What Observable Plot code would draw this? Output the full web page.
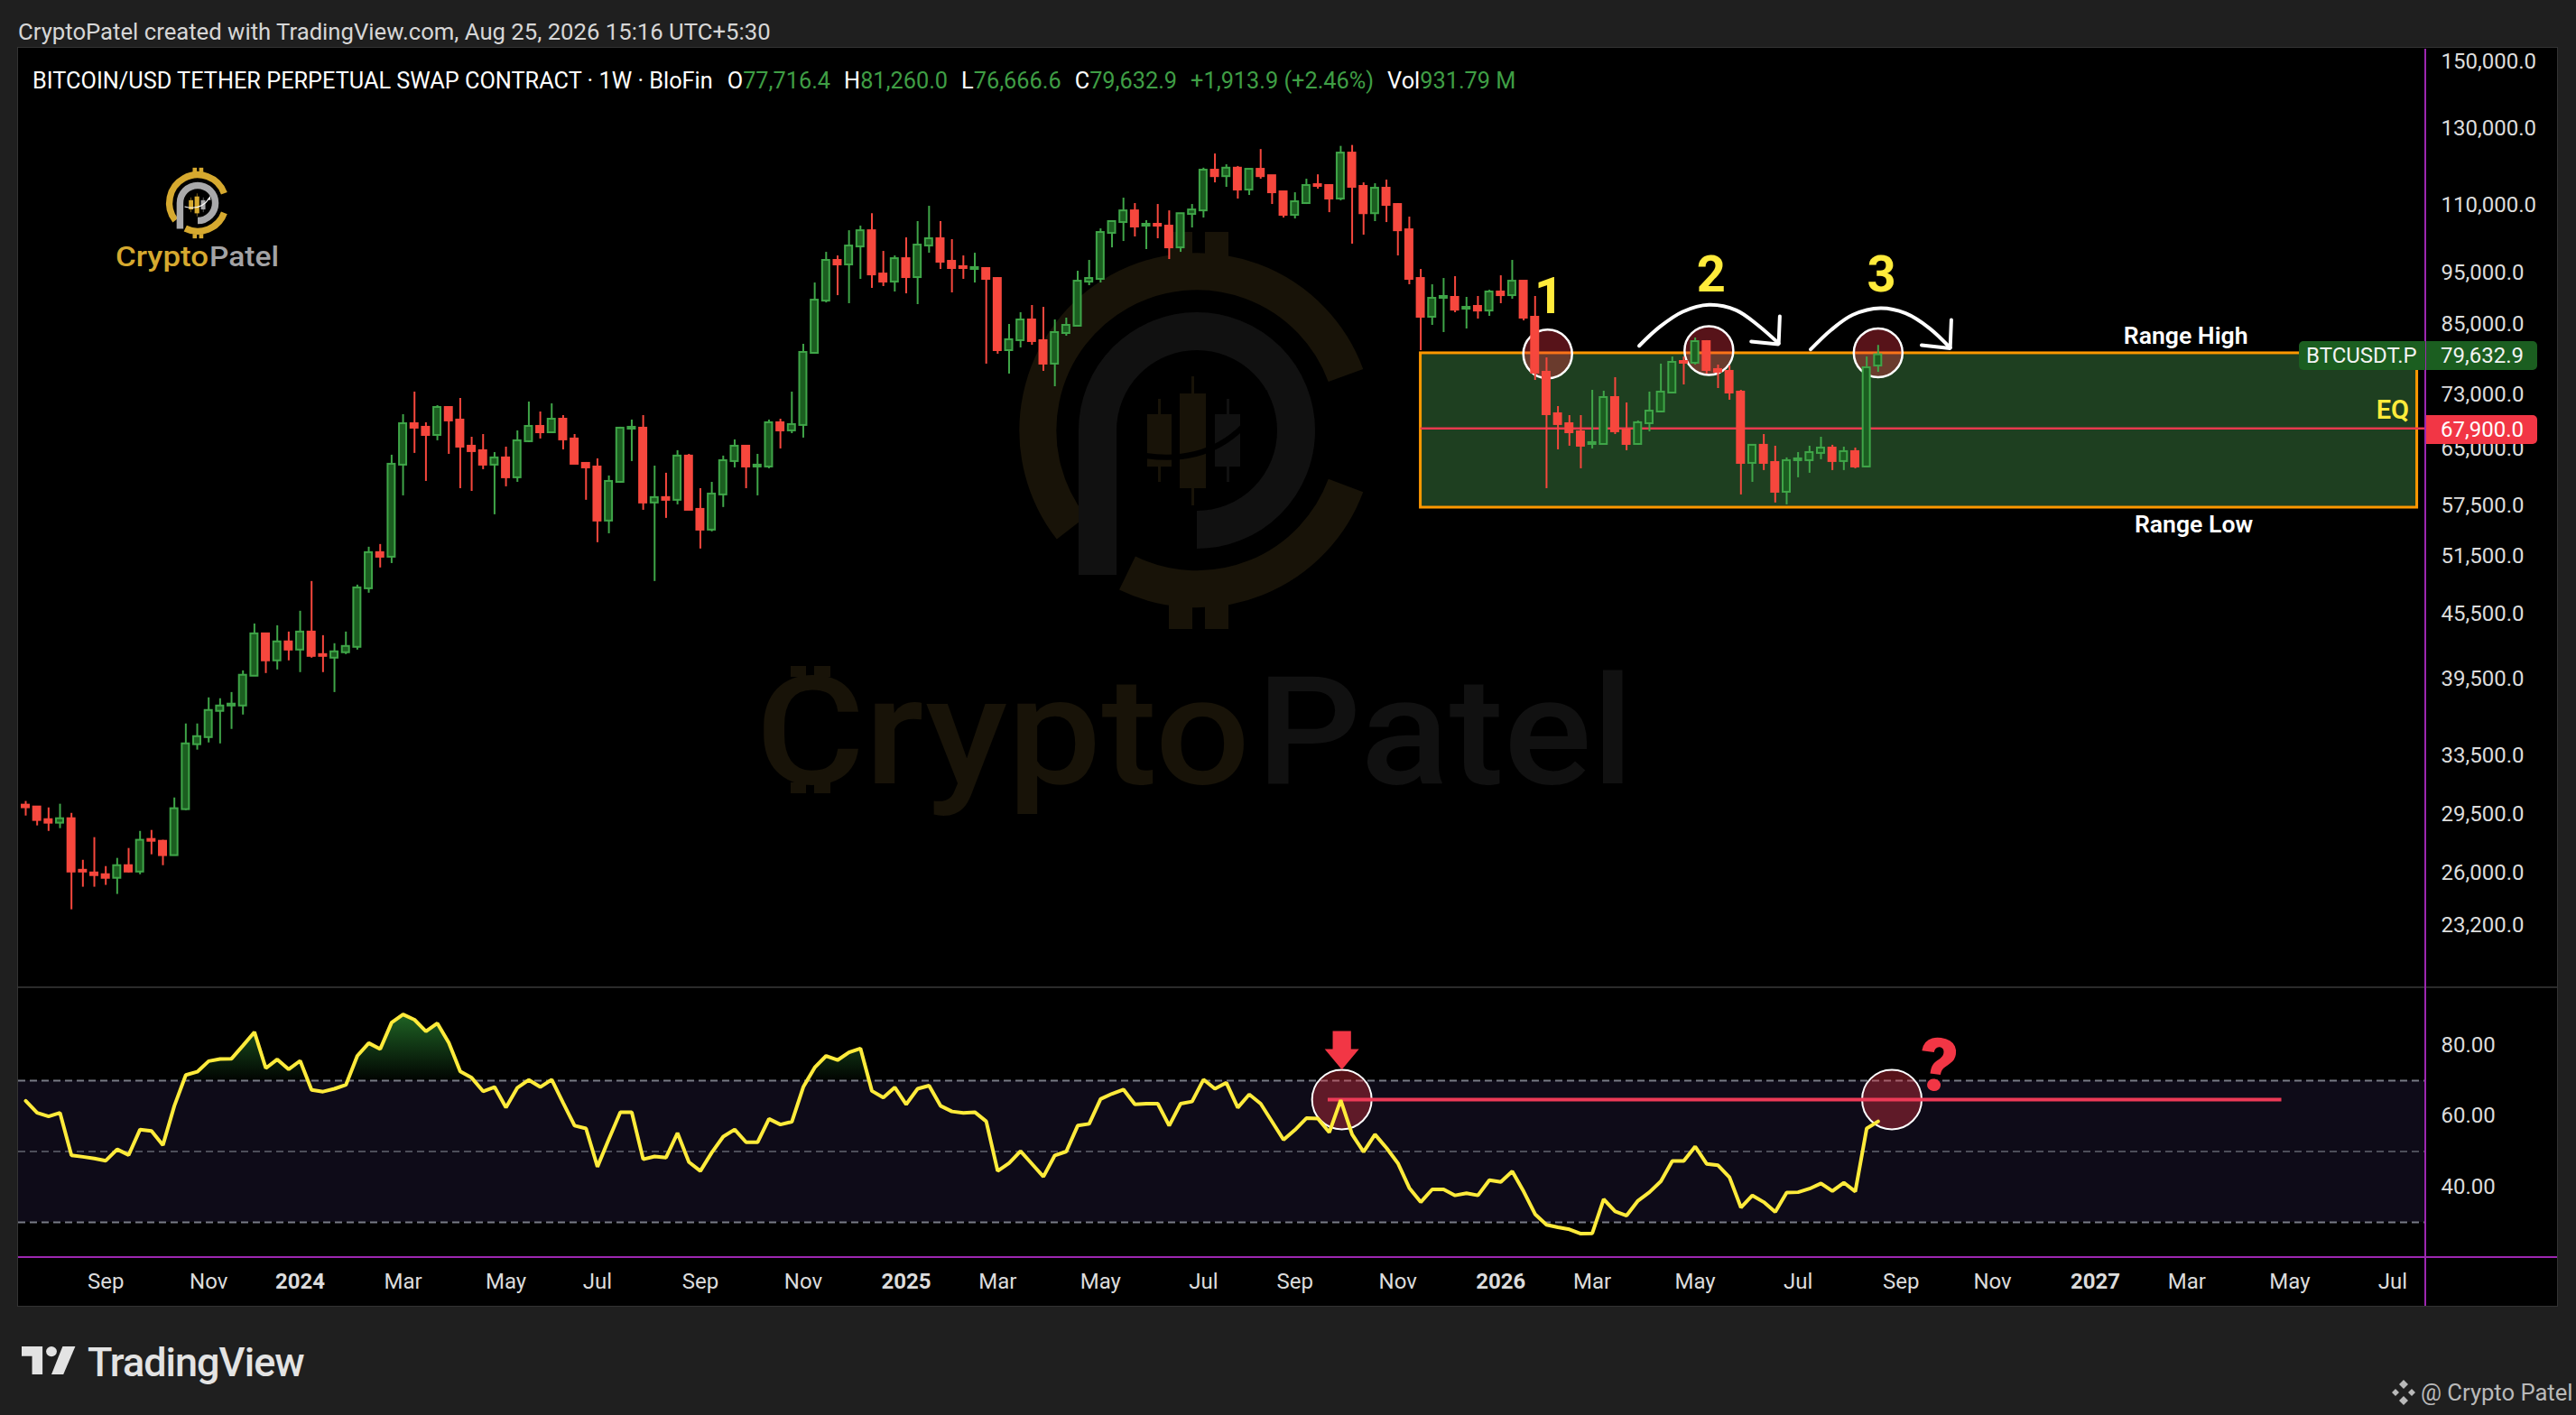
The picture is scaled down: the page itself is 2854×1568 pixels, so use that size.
<!DOCTYPE html>
<html>
<head>
<meta charset="utf-8">
<script src="https://cdn.jsdelivr.net/npm/d3@7"></script>
<script src="https://cdn.jsdelivr.net/npm/@observablehq/plot@0.6"></script>
<style>
html,body{margin:0;padding:0;background:#1f1f1f;}
#page{position:relative;width:2854px;height:1568px;overflow:hidden;background:#1f1f1f;font-family:Roboto,sans-serif;color:#d9d9d9;}
#page>*{position:absolute;}
#panel{left:20px;top:53px;width:2813px;height:1394px;background:#000;box-shadow:0 0 0 1px #333;}
.hline{background:#2b2b2b;}
.badge{font-size:24px;line-height:32px;height:32px;color:#f2f2f2;white-space:pre;}
#legend{left:36px;top:74px;font-size:25.3px;line-height:32px;white-space:pre;color:#fff;}
#legend b{font-weight:400;color:#3f9e45;}
</style>
</head>
<body>
<div id="page">
  <div id="panel"></div>
  <svg id="marks" width="2854" height="1568" style="left:0;top:0"></svg>
  <div id="priceHost" style="left:20px;top:54px"></div>
  <div id="rsiHost" style="left:20px;top:1094px"></div>
  <div class="hline" style="left:20px;top:1093px;width:2813px;height:2px"></div>
  <div style="left:2686px;top:54px;width:2px;height:1393px;background:#9c27b0"></div>
  <div style="left:20px;top:1392px;width:2813px;height:2px;background:#9c27b0"></div>
  <div style="left:20px;top:18px;font-size:25.7px;line-height:34px;white-space:pre;color:#d6d6d6">CryptoPatel created with TradingView.com, Aug 25, 2026 15:16 UTC+5:30</div>
  <div id="legend">BITCOIN/USD TETHER PERPETUAL SWAP CONTRACT · 1W · BloFin<span style="margin-left:16px">O<b>77,716.4</b></span><span style="margin-left:15px">H<b>81,260.0</b></span><span style="margin-left:15px">L<b>76,666.6</b></span><span style="margin-left:15px">C<b>79,632.9</b></span><span style="margin-left:15px"><b>+1,913.9 (+2.46%)</b></span><span style="margin-left:15px">Vol<b>931.79 M</b></span></div>
  <div class="badge" style="left:2547px;top:378px;width:140px;background:#1b5e20;border-radius:5px 0 0 5px;text-indent:8px">BTCUSDT.P</div>
  <div class="badge" style="left:2688px;top:378px;width:123px;background:#1b5e20;border-radius:0 5px 5px 0;text-indent:16px">79,632.9</div>
  <div class="badge" style="left:2688px;top:460px;width:123px;background:#f23645;color:#fff;border-radius:0 5px 5px 0;text-indent:16px">67,900.0</div>
  <div style="left:97px;top:1482px;font-size:45px;line-height:56px;font-weight:500;letter-spacing:-1px;color:#e3e3e3">TradingView</div>
  <div style="left:2682px;top:1526px;font-size:25.6px;line-height:34px;color:#b9b9b9;white-space:pre">@ Crypto Patel</div>
</div>
<script>
// ---------- chart values (weekly candles) ----------
const firstCandle = "2023-07-17";
const opens = [30080,29960,29150,28930,29210,26130,25980,25880,25680,26390,26030,27930,27820,26970,29790,34280,34810,36840,37270,37270,39750,43560,41090,42810,42060,43730,41650,41330,41820,42310,48020,51920,51410,62730,68610,68080,66890,71060,69150,65350,64720,62730,63720,61040,65990,68210,67280,69280,66380,62970,62480,55590,60440,67810,67950,57800,58480,58140,63970,57010,54510,58820,63220,65350,62480,62480,68750,67550,68350,79880,89430,97650,96700,100540,104120,94820,93180,98020,94090,100740,102330,97460,96330,95760,95950,93910,80350,82100,85860,82100,78040,83380,84700,93180,93730,103530,105980,108690,105160,105580,105160,100340,107850,108690,118680,117040,119200,113690,118910,117270,113250,107640,110420,115030,114810,111500,123150,114590,108030,114140,110200,104330,93910,86360,89970,90150,87880,88410,87530,91210,90490,93360,86360,76680,70100,68610,67420,65600,65600,72600,67680,65600,68610,70370,73310,78490,78190,81930,77130,76830,73460,62970,65480,63090,59160,63340,63340,64340,65090,63220,64590,62480,77716.4];
const highs = [30320,29960,29900,30140,29550,26700,28040,26340,26810,27390,28420,28480,27880,30550,35850,35850,37930,37860,38370,40210,44500,43560,44330,43730,45740,48780,43390,42640,43730,48400,52530,52840,64090,69960,73460,68750,71340,71060,72460,66630,67020,64460,65220,67550,71900,70370,71620,69820,67020,63090,63590,61280,68080,69150,69820,62600,61640,64720,64210,59620,60440,63970,66250,65350,64210,69150,69280,73460,81450,93000,99370,98600,104120,105160,108030,99570,98600,102530,106200,109770,106200,102130,98600,99180,96140,94090,85030,87210,88580,88230,85860,86190,95390,97650,104540,106420,111720,110420,106420,110200,108690,108030,110200,119200,122910,120070,119640,118910,124100,117270,113250,113030,116390,117500,115030,124950,125200,115470,115250,116160,110420,107230,95760,92640,93910,94280,90150,90330,91560,94460,97650,93360,90330,79100,71200,69820,69820,73740,73600,75790,71760,69020,73460,78040,79250,79250,82570,82100,77880,77730,73740,65480,67020,65350,63720,64460,65350,66630,65480,65220,65090,79250,81260];
const lows = [29380,28760,28420,28590,23990,25190,25190,25290,24800,25980,25880,27020,26390,26970,29730,33880,34410,34340,35430,36550,39750,39980,40290,41090,40060,41330,40060,38370,41650,42060,47560,50230,50710,58700,64340,60560,66120,64210,59620,59270,62120,56350,59860,60440,65860,66380,67280,64840,62850,58140,53050,54080,60320,63220,56900,48780,55910,57570,56900,52330,54300,57240,62360,59620,58700,62240,64970,67150,66510,79880,89080,90490,88930,93730,91920,92280,91210,90850,88750,99180,95760,91030,93730,93000,78040,79730,76380,80820,81290,76830,74320,82890,84700,92460,93000,100340,101730,102730,99970,102330,97840,99370,104750,107020,115470,114360,111500,112370,116390,110200,107020,106810,110200,113910,108270,111060,101140,103130,106200,105980,98600,92640,80350,84860,83550,87210,84200,86020,86530,88930,89790,85690,75340,59620,64840,65350,62240,64970,65600,67020,64720,65480,67420,70230,73310,74610,77880,76380,74030,72180,58820,60440,62000,57800,57570,61040,61640,63470,62000,62000,62240,62480,76666.6];
const closes = [29910,29100,28930,29210,26030,26030,25830,25680,26390,26030,27880,27820,26970,29850,34340,34880,36910,37270,37420,39830,43560,41090,42810,42060,43730,41490,41490,41900,42390,48110,51920,51410,62850,68610,67950,66890,71060,69020,65220,64590,62730,63720,61040,66120,68210,67280,69280,66250,62850,62360,55590,60560,67950,68080,57800,58480,58140,63970,56900,54510,58930,63340,65350,62480,62730,68750,67550,68480,80040,89610,97650,96700,100740,104120,94640,93180,98020,94090,100940,102330,97270,95950,95950,96140,93730,80350,82260,85860,81940,78040,83550,84860,93360,93910,103730,106200,108690,104960,105580,105160,100340,108030,108900,118680,117040,119200,113690,118910,117040,113030,107640,110850,114810,114590,111500,123150,114360,108030,114140,109980,104120,93730,86360,89970,90330,87700,88230,87530,91210,90490,93360,86190,76530,69960,68480,67280,65350,65860,72600,67420,65600,68750,70500,73460,78340,78190,81930,76980,76680,73310,62970,65480,62970,59160,63340,63590,64460,65090,63220,64590,62480,77430,79632.9];
const rsi = [64.3,60.9,59.9,60.9,48.9,48.5,48.0,47.4,50.6,49.0,56.2,55.8,51.8,62.9,71.6,72.5,75.5,76.1,76.2,79.9,83.7,73.5,76.0,73.2,75.6,67.4,66.9,67.7,68.8,77.0,80.6,78.9,86.4,88.7,87.2,83.9,86.2,80.7,72.6,70.8,67.0,68.2,62.4,68.0,70.2,68.2,70.3,63.7,57.3,56.5,45.7,53.5,61.1,61.1,47.8,48.6,48.3,55.2,47.0,44.5,49.7,54.2,56.2,52.6,52.6,59.2,57.6,58.4,68.2,73.7,77.0,75.8,78.0,79.1,67.1,65.2,68.1,63.3,67.7,68.6,62.9,61.3,60.9,61.1,58.5,44.5,46.7,50.1,46.5,42.9,48.9,50.0,57.3,57.8,64.8,66.3,67.5,63.3,63.5,63.5,57.3,63.5,64.1,70.3,67.7,69.4,62.4,66.1,63.5,58.4,53.3,56.1,59.4,59.3,55.4,64.5,54.8,49.9,54.8,51.0,46.7,39.7,35.7,39.3,39.3,37.6,38.2,37.6,41.9,41.4,44.4,38.7,32.3,29.3,28.6,28.0,26.8,26.9,36.5,33.1,31.9,36.1,38.5,41.6,47.3,47.3,51.4,46.5,46.1,42.7,34.2,37.6,35.7,32.9,38.4,38.5,39.5,41.0,38.8,41.2,38.7,56.5,58.5];

const priceTicks = [150000,130000,110000,95000,85000,73000,65000,57500,51500,45500,39500,33500,29500,26000,23200];
const rsiTicks = [80,60,40];
const rsiLevels = [70,50,30];
const monthTicks = ["2023-09-04","2023-11-06","2024-03-04","2024-05-06","2024-07-01","2024-09-02","2024-11-04","2025-03-03","2025-05-05","2025-07-07","2025-09-01","2025-11-03","2026-03-02","2026-05-04","2026-07-06","2026-09-07","2026-11-02","2027-03-01","2027-05-03","2027-07-05"];
const yearTicks = ["2024-01-01","2025-01-06","2026-01-05","2027-01-04"];
const timeDomain = ["2023-07-12T14:00Z","2027-07-25T05:00Z"];
const priceDomain = [20270,154150];
const rsiDomain = [20.06,96.24];

const rangeHigh = 79890, rangeLow = 57220, rangeEq = 67900;
const rangeStart = "2025-11-17", rangeEnd = "2027-07-20";
const touchCircles = [{i:133.1,p:79770},{i:147.2,p:80360},{i:162,p:79950}];
const touchNumbers = [{i:133.2,p:90150,t:"1"},{i:147.4,p:94640,t:"2"},{i:162.3,p:94640,t:"3"}];
const rangeLabels = [{i:188.9,p:82970,t:"Range High",c:"#fff",s:26.6},{i:189.6,p:55100,t:"Range Low",c:"#fff",s:26.6},{i:207.0,p:70650,t:"EQ",c:"#ffeb3b",s:29}];
const arcs = [
  {k:"a2",i:141.1,p:81180},{k:"a2",i:142.9,p:84580},{k:"a2",i:144.9,p:87380},{k:"a2",i:147.2,p:88700},{k:"a2",i:149.6,p:87670},{k:"a2",i:151.5,p:84860},{k:"a2",i:153.3,p:81610},
  {k:"a3",i:156.1,p:80550},{k:"a3",i:157.9,p:84040},{k:"a3",i:159.8,p:86820},{k:"a3",i:162.2,p:88060},{k:"a3",i:164.4,p:87090},{k:"a3",i:166.5,p:84310},{k:"a3",i:168.3,p:80820}
];
const arrowHeads = [
  {k:"h2",i:150.9,p:81930},{k:"h2",i:153.3,p:81450},{k:"h2",i:153.4,p:86530},
  {k:"h3",i:165.8,p:81290},{k:"h3",i:168.3,p:80740},{k:"h3",i:168.4,p:85860}
];
const rsiResistance = 64.65;
const rsiLineStart = 113.9, rsiLineEnd = 197.3;
const rsiCircles = [{i:115.1,v:64.65},{i:163.2,v:64.65}];
const rsiDownArrow = [{i:114.3,v:84},{i:115.9,v:84},{i:115.9,v:78.9},{i:116.6,v:78.9},{i:115.1,v:73.1},{i:113.6,v:78.9},{i:114.3,v:78.9}];
const rsiQuestion = [{i:167.2,v:73.8,t:"?"}];

// ---------- helpers ----------
const weekMs = 7*864e5;
const firstMs = Date.parse(firstCandle+"T00:00Z");
const weekDate = i => new Date(firstMs + i*weekMs);
const toDate = s => new Date(s.length>10 ? s : s+"T00:00Z");
const xDomain = timeDomain.map(toDate);
for (const a of [highs,lows,closes,rsi]) if (a.length!==opens.length) throw new Error("length "+a.length+" vs "+opens.length);

const candles = opens.map((o,i)=>({date:weekDate(i),open:o,high:highs[i],low:lows[i],close:closes[i],up:closes[i]>=o}));
const rsiRows = rsi.map((v,i)=>({date:weekDate(i),v}));
const halfBody = 2.2*864e5;
const RED="#f6473d", GREEN="#3fa548", GREEN_FILL="#1b5e20";
const DIM = 2667+146;

const pricePlot = Plot.plot({
  width:DIM,height:1040,marginLeft:0,marginRight:146,marginTop:0,marginBottom:0,
  style:{background:"transparent",fontFamily:"Roboto,sans-serif",color:"#dcdcdc",overflow:"visible"},
  x:{type:"utc",domain:xDomain,axis:null},
  y:{type:"log",domain:priceDomain,axis:null},
  color:{type:"identity"},
  marks:[
    Plot.axisY(priceTicks,{anchor:"right",tickSize:0,tickPadding:17,fontSize:24,tickFormat:d3.format(",.1f"),label:null}),
    Plot.rect([{}],{x1:()=>toDate(rangeStart),x2:()=>toDate(rangeEnd),y1:()=>rangeLow,y2:()=>rangeHigh,fill:"#1e3f20",stroke:"#ff9800",strokeWidth:3}),
    Plot.ruleY([rangeEq],{x1:()=>toDate(rangeStart),x2:()=>xDomain[1],stroke:"#e8394e",strokeWidth:2.5}),
    Plot.dot(touchCircles,{x:d=>weekDate(d.i),y:"p",r:27,fill:"#f23645",fillOpacity:0.36,stroke:"#fff",strokeWidth:2.5}),
    Plot.ruleX(candles,{x:"date",y1:"low",y2:"high",stroke:d=>d.up?GREEN:RED,strokeWidth:2}),
    Plot.rect(candles,{x1:d=>new Date(+d.date-halfBody),x2:d=>new Date(+d.date+halfBody),y1:"open",y2:"close",fill:d=>d.up?GREEN_FILL:RED,stroke:d=>d.up?GREEN:RED,strokeWidth:2}),
    Plot.text(touchNumbers,{x:d=>weekDate(d.i),y:"p",text:"t",fill:"#ffeb3b",fontSize:56,fontWeight:700}),
    Plot.text(rangeLabels,{x:d=>weekDate(d.i),y:"p",text:"t",fill:"c",fontSize:"s",fontWeight:600}),
    Plot.line(arcs,{x:d=>weekDate(d.i),y:"p",z:"k",curve:"catmull-rom",stroke:"#fff",strokeWidth:4,strokeLinecap:"round"}),
    Plot.line(arrowHeads,{x:d=>weekDate(d.i),y:"p",z:"k",stroke:"#fff",strokeWidth:4,strokeLinejoin:"miter"})
  ]
});
document.getElementById("priceHost").appendChild(pricePlot);

const rsiGlow = (index,{y}) => {
  const defs = d3.create("svg:defs");
  const g = defs.append("linearGradient").attr("id","rsiGlow").attr("gradientUnits","userSpaceOnUse")
    .attr("x1",0).attr("x2",0).attr("y1",y(88.7)).attr("y2",y(70));
  g.append("stop").attr("offset",0).attr("stop-color","#1f6425");
  g.append("stop").attr("offset",1).attr("stop-color","#1f6425").attr("stop-opacity",0.04);
  return defs.node();
};

const rsiPlot = Plot.plot({
  width:DIM,height:353,marginLeft:0,marginRight:146,marginTop:0,marginBottom:54,
  style:{background:"transparent",fontFamily:"Roboto,sans-serif",color:"#dcdcdc",overflow:"visible"},
  x:{type:"utc",domain:xDomain,axis:null},
  y:{domain:rsiDomain,axis:null},
  color:{type:"identity"},
  marks:[
    rsiGlow,
    Plot.axisY(rsiTicks,{anchor:"right",tickSize:0,tickPadding:17,fontSize:24,tickFormat:d3.format(".2f"),label:null}),
    Plot.axisX(monthTicks.map(toDate),{anchor:"bottom",tickSize:0,tickPadding:17,fontSize:24,tickFormat:d3.utcFormat("%b"),label:null}),
    Plot.axisX(yearTicks.map(toDate),{anchor:"bottom",tickSize:0,tickPadding:17,fontSize:24,fontWeight:700,tickFormat:d3.utcFormat("%Y"),label:null}),
    Plot.rect([{}],{x1:()=>xDomain[0],x2:()=>xDomain[1],y1:()=>rsiLevels[2],y2:()=>rsiLevels[0],fill:"#0e0b18"}),
    Plot.areaY(rsiRows,{x:"date",y1:()=>rsiLevels[0],y2:d=>Math.max(d.v,rsiLevels[0]),fill:"url(#rsiGlow)"}),
    Plot.ruleY(rsiLevels,{stroke:"#787b86",strokeWidth:2,strokeDasharray:"8,5",strokeOpacity:d=>d===50?0.6:1}),
    Plot.dot(rsiCircles,{x:d=>weekDate(d.i),y:"v",r:33,fill:"#f23645",fillOpacity:0.36,stroke:"#fff",strokeWidth:2}),
    Plot.ruleY([rsiResistance],{x1:()=>weekDate(rsiLineStart),x2:()=>weekDate(rsiLineEnd),stroke:"#ec3a57",strokeWidth:4}),
    Plot.line(rsiRows,{x:"date",y:"v",stroke:"#ffeb3b",strokeWidth:4,strokeLinejoin:"miter"}),
    Plot.line(rsiDownArrow,{x:d=>weekDate(d.i),y:"v",fill:"#f23645",stroke:"none"}),
    Plot.text(rsiQuestion,{x:d=>weekDate(d.i),y:"v",text:"t",fill:"#f23645",fontSize:82,fontWeight:900,rotate:8})
  ]
});
document.getElementById("rsiHost").appendChild(rsiPlot);

// ---------- brand artwork behind the chart ----------
function logo(cx,cy,s,ring,stem,wick2,sw){
  const n=v=>(v*s).toFixed(2);
  return `<g transform="translate(${cx},${cy})">
  <g fill="none" stroke-width="${n(41)}" stroke="${ring}">
   <path d="M${n(165)} ${n(-61)}A${n(176)} ${n(176)} 0 1 0 ${n(-139)} ${n(108)}"/>
   <path d="M${n(-77)} ${n(158)}A${n(176)} ${n(176)} 0 0 0 ${n(165)} ${n(61)}"/>
  </g>
  <g fill="${ring}">
   <rect x="${n(-31)}" y="${n(-220)}" width="${n(26)}" height="${n(28)}"/><rect x="${n(9)}" y="${n(-220)}" width="${n(26)}" height="${n(28)}"/>
   <rect x="${n(-31)}" y="${n(192)}" width="${n(26)}" height="${n(28)}"/><rect x="${n(9)}" y="${n(192)}" width="${n(26)}" height="${n(28)}"/>
  </g>
  <path fill="none" stroke="${stem}" stroke-width="${n(42)}" d="M0 ${n(110)}A${n(110)} ${n(110)} 0 1 0 ${n(-110)} 0L${n(-110)} ${n(160)}"/>
  <g fill="${ring}"><rect x="${n(-55)}" y="${n(-18)}" width="${n(27)}" height="${n(58)}"/><rect x="${n(-19)}" y="${n(-41)}" width="${n(29)}" height="${n(105)}"/>
  <rect x="${n(-43)}" y="${n(-35)}" width="${n(3)}" height="${n(92)}"/><rect x="${n(-6)}" y="${n(-60)}" width="${n(3)}" height="${n(143)}"/></g>
  <g fill="${stem}"><rect x="${n(20)}" y="${n(-18)}" width="${n(28)}" height="${n(58)}"/><rect x="${n(33)}" y="${n(-35)}" width="${n(3)}" height="${n(92)}"/></g>
  <path fill="none" stroke="${sw}" stroke-width="${n(6)}" d="M${n(-81)} ${n(23)}Q${n(20)} ${n(50)} ${n(72)} ${n(-30)}"/>
  <path fill="${sw}" d="M${n(78)} ${n(-45)}L${n(62)} ${n(-22)}L${n(80)} ${n(-18)}Z"/>
 </g>`;
}
document.getElementById("marks").innerHTML = `
 ${logo(1326,477,1,"#181308","#111111","#111111","#000")}
 <g font-family="Roboto,sans-serif" font-weight="500" font-size="167">
  <text x="837" y="868" fill="#181308" textLength="548" lengthAdjust="spacingAndGlyphs">Crypto</text>
  <text x="1392" y="868" fill="#111111" textLength="418" lengthAdjust="spacingAndGlyphs">Patel</text>
 </g>
 <g fill="#181308"><rect x="876" y="738" width="17" height="12"/><rect x="902" y="738" width="18" height="12"/><rect x="876" y="867" width="17" height="12"/><rect x="902" y="867" width="18" height="12"/></g>
 ${logo(219,225,0.178,"#d6a92f","#a9a9ab","#c9c9c9","#fff")}
 <g font-family="Roboto,sans-serif" font-weight="500" font-size="31">
  <text x="128" y="295" fill="#d6a92f" textLength="103" lengthAdjust="spacingAndGlyphs">Crypto</text>
  <text x="232" y="295" fill="#a3a3a5" textLength="77" lengthAdjust="spacingAndGlyphs">Patel</text>
 </g>
 <g fill="#e3e3e3" transform="translate(24,1492) scale(1.65,1.55)"><path d="M14 0H0v7h7v13h7V0z"/><circle cx="20" cy="3.6" r="3.6"/><path d="M28 20h-8L27.5 0H36z"/></g>
 <g fill="#b9b9b9" transform="translate(2663,1543)"><path d="M0-14l5 5-5 5-5-5z"/><path d="M0 14l5-5-5-5-5 5z"/><path d="M-9-5l4 4-4 4-4-4zM9-5l4 4-4 4-4-4z" transform="translate(0,1)"/></g>
`;
</script>
</body>
</html>
